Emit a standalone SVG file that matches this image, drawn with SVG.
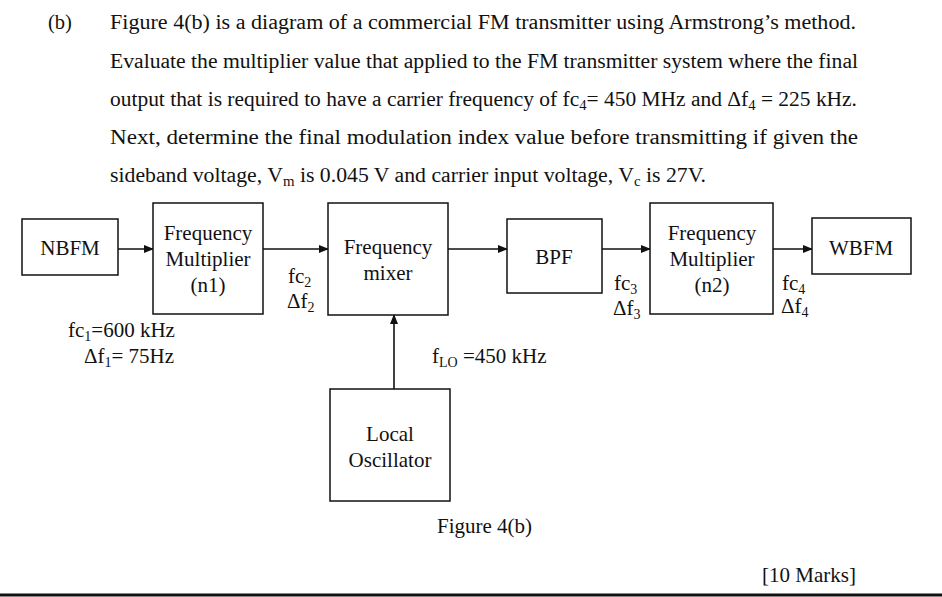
<svg xmlns="http://www.w3.org/2000/svg" width="942" height="597" viewBox="0 0 942 597">
<style>
text{font-family:"Liberation Serif","Times New Roman",serif;font-size:21px;fill:#111}
.p{font-size:20.5px}
.c{text-anchor:middle}
.b{fill:#fff;stroke:#111;stroke-width:1.5}
.w{stroke:#111;stroke-width:1.6;fill:none}
.s{font-size:14px}
</style>
<defs><marker id="a" markerWidth="10" markerHeight="8" refX="9" refY="4" orient="auto" markerUnits="userSpaceOnUse"><path d="M0,0L10,4L0,8z" fill="#111"/></marker></defs>
<rect width="942" height="597" fill="#fff"/>
<text class="p" x="48" y="29">(b)</text>
<text class="p" x="110" y="29" textLength="746" lengthAdjust="spacingAndGlyphs">Figure 4(b) is a diagram of a commercial FM transmitter using Armstrong’s method.</text>
<text class="p" x="110" y="68" textLength="748" lengthAdjust="spacingAndGlyphs">Evaluate the multiplier value that applied to the FM transmitter system where the final</text>
<text class="p" x="110" y="106" textLength="747" lengthAdjust="spacingAndGlyphs">output that is required to have a carrier frequency of fc<tspan class="s" dy="4">4</tspan><tspan dy="-4">= 450 MHz and Δf</tspan><tspan class="s" dy="4">4</tspan><tspan dy="-4"> = 225 kHz.</tspan></text>
<text class="p" x="110" y="144" textLength="748" lengthAdjust="spacingAndGlyphs">Next, determine the final modulation index value before transmitting if given the</text>
<text class="p" x="110" y="182" textLength="596" lengthAdjust="spacingAndGlyphs">sideband voltage, V<tspan class="s" dy="4">m</tspan><tspan dy="-4"> is 0.045 V and carrier input voltage, V</tspan><tspan class="s" dy="4">c</tspan><tspan dy="-4"> is 27V.</tspan></text>
<g id="connectors">
<line class="w" x1="118" y1="249" x2="153" y2="249" marker-end="url(#a)"/>
<line class="w" x1="263" y1="249" x2="328" y2="249" marker-end="url(#a)"/>
<line class="w" x1="448" y1="249" x2="507" y2="249" marker-end="url(#a)"/>
<line class="w" x1="602" y1="249" x2="650" y2="249" marker-end="url(#a)"/>
<line class="w" x1="773" y1="249" x2="812" y2="249" marker-end="url(#a)"/>
<line class="w" x1="394" y1="389" x2="394" y2="315" marker-end="url(#a)"/>
</g>
<g id="nbfm"><rect class="b" x="22" y="219" width="96" height="56"/><text class="c" x="70" y="255">NBFM</text></g>
<g id="mult1"><rect class="b" x="153" y="203" width="110" height="111"/><text class="c" x="208" y="240">Frequency</text><text class="c" x="208" y="266">Multiplier</text><text class="c" x="208" y="292">(n1)</text></g>
<g id="mixer"><rect class="b" x="328" y="203" width="120" height="112"/><text class="c" x="388" y="254">Frequency</text><text class="c" x="388" y="280">mixer</text></g>
<g id="bpf"><rect class="b" x="507" y="219" width="95" height="74"/><text class="c" x="554" y="264">BPF</text></g>
<g id="mult2"><rect class="b" x="650" y="203" width="123" height="111"/><text class="c" x="712" y="240">Frequency</text><text class="c" x="712" y="266">Multiplier</text><text class="c" x="712" y="292">(n2)</text></g>
<g id="wbfm"><rect class="b" x="812" y="218" width="99" height="56"/><text class="c" x="861" y="255">WBFM</text></g>
<g id="lo"><rect class="b" x="330" y="389" width="120" height="112"/><text class="c" x="390" y="441">Local</text><text class="c" x="390" y="467">Oscillator</text></g>
<g id="labels">
<text x="288" y="283">fc<tspan class="s" dy="4">2</tspan></text>
<text x="287" y="308">Δf<tspan class="s" dy="4">2</tspan></text>
<text x="614" y="290">fc<tspan class="s" dy="4">3</tspan></text>
<text x="613" y="315">Δf<tspan class="s" dy="4">3</tspan></text>
<text x="782" y="290">fc<tspan class="s" dy="4">4</tspan></text>
<text x="781" y="313">Δf<tspan class="s" dy="4">4</tspan></text>
<text x="68" y="337">fc<tspan class="s" dy="4">1</tspan><tspan dy="-4">=600 kHz</tspan></text>
<text x="84" y="363">Δf<tspan class="s" dy="4">1</tspan><tspan dy="-4">= 75Hz</tspan></text>
<text x="432" y="363">f<tspan class="s" dy="4">LO</tspan><tspan dy="-4"> =450 kHz</tspan></text>
</g>
<text x="437" y="533">Figure 4(b)</text>
<text x="762" y="582">[10 Marks]</text>
<line x1="0" y1="595" x2="942" y2="595" stroke="#111" stroke-width="3"/>
</svg>
